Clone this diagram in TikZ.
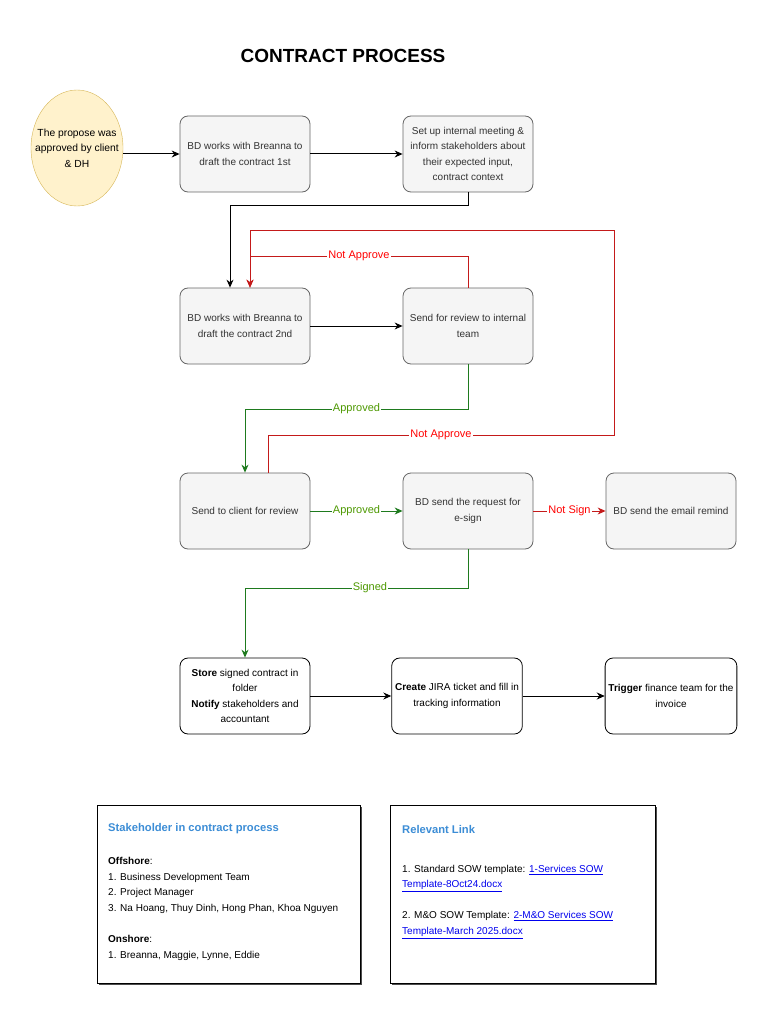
\documentclass[tikz,border=0pt]{standalone}
\usepackage{fontspec}
\setmainfont{Liberation Sans}
\usepackage{tikz}
\usetikzlibrary{arrows.meta}
\usetikzlibrary{shapes.geometric}
\usetikzlibrary{calc}
\definecolor{boxfill}{HTML}{F5F5F5}
\definecolor{boxline}{HTML}{666666}
\definecolor{boxtext}{HTML}{333333}
\definecolor{startfill}{HTML}{FFF2CC}
\definecolor{startline}{HTML}{D6B656}
\definecolor{noline}{HTML}{C41A1A}
\definecolor{notext}{HTML}{FF0000}
\definecolor{okline}{HTML}{1E7A1E}
\definecolor{oktext}{HTML}{4D9900}
\definecolor{headblue}{HTML}{3C8DD6}
\definecolor{linkblue}{HTML}{0000EE}
\tikzset{>={Stealth[length=8pt,width=7pt]}}
\tikzset{
  stepbox/.style={draw=boxline,fill=boxfill,rounded corners=8pt,minimum width=130pt,minimum height=76pt,
    align=center,text=boxtext,font=\fontsize{10}{15.5}\selectfont,line width=0.8pt},
  donebox/.style={stepbox,draw=black,fill=white,text=black},
  startnode/.style={ellipse,draw=startline,fill=startfill,minimum width=92pt,minimum height=116pt,
    align=center,font=\fontsize{10.3}{15.5}\selectfont,inner xsep=-16pt,inner ysep=-10pt},
  flow/.style={->,line width=1pt},
  noflow/.style={->,line width=1pt,draw=noline},
  okflow/.style={->,line width=1pt,draw=okline},
  nolabel/.style={fill=white,inner sep=1pt,text=notext,font=\fontsize{11}{12}\selectfont},
  oklabel/.style={fill=white,inner sep=1pt,text=oktext,font=\fontsize{11}{12}\selectfont},
  infobox/.style={draw=black,line width=1pt,fill=white},
}
\newcommand{\linktext}[1]{{\color{linkblue}\underline{#1}}}
\begin{document}
\begin{tikzpicture}[x=1pt,y=-1pt]
			\useasboundingbox[fill=white] (0,0) rectangle (768,1024);
			\node (title) at (343,56) {\fontsize{19}{22}\selectfont\bfseries CONTRACT PROCESS};
			
			\node[startnode] (start) at (77,148) {The propose was\\approved by client\\\& DH};
			\node[stepbox] (draft1) at (245,154) {BD works with Breanna to\\draft the contract 1st};
			\node[stepbox] (meeting) at (468,154) {Set up internal meeting \&\\inform stakeholders about\\their expected input,\\contract context};
			\node[stepbox] (draft2) at (245,326) {BD works with Breanna to\\draft the contract 2nd};
			\node[stepbox] (review) at (468,326) {Send for review to internal\\team};
			\node[stepbox] (client) at (245,511) {Send to client for review};
			\node[stepbox] (esign) at (468,511) {BD send the request for\\e-sign};
			\node[stepbox] (remind) at (671,511) {BD send the email remind};
			\node[donebox] (store) at (245,696) {\textbf{Store} signed contract in\\folder\\\textbf{Notify} stakeholders and\\accountant};
			\node[donebox] (jira) at (457,696) {\textbf{Create} JIRA ticket and fill in\\tracking information};
			\node[donebox] (trigger) at (671,696) {\textbf{Trigger} finance team for the\\invoice};
			
			\draw[flow] (draft1.west -| start.east) -- (draft1.west);
			\draw[flow] (draft1) -- (meeting);
			\draw[flow] (meeting.south) -- (468,206) -| ([xshift=-15pt]draft2.north);
			\draw[flow] (draft2) -- (review);
			\draw[noflow] (review.north) -- (468,256) -| ([xshift=5pt]draft2.north) node[nolabel,pos=0.25]{Not Approve};
			\draw[noflow] ([xshift=23pt]client.north) -- (268,435) -- (614,435) node[nolabel,midway]{Not Approve} -- (614,231) -- (250,231) -- ([xshift=5pt]draft2.north);
			\draw[okflow] (review.south) -- (468,409) -| (client.north) node[oklabel,pos=0.25]{Approved};
			\draw[okflow] (client) -- (esign) node[oklabel,midway]{Approved};
			\draw[noflow] (esign) -- (remind) node[nolabel,midway]{Not Sign};
			\draw[okflow] (esign.south) -- (468,588) -| (store.north) node[oklabel,pos=0.22]{Signed};
			\draw[flow] (store) -- (jira);
			\draw[flow] (jira) -- (trigger);
			
			\fill[black!70] (99,807) rectangle (362,985);
			\node[infobox,minimum width=263pt,minimum height=178pt] (people) at (228.5,894) {};
			\node[anchor=west,inner sep=0pt,text=headblue,font=\fontsize{11.2}{14}\selectfont\bfseries] (peoplehead) at (108,829) {Stakeholder in contract process};
			\node[anchor=north west,align=left,inner sep=0pt,font=\fontsize{10}{15.7}\selectfont] (peoplelist) at (108,857)
				{\textbf{Offshore}:\\1. Business Development Team\\2. Project Manager\\3. Na Hoang, Thuy Dinh, Hong Phan, Khoa Nguyen\\[15.7pt]\textbf{Onshore}:\\1. Breanna, Maggie, Lynne, Eddie};
			
			\fill[black!70] (392,807) rectangle (657,985);
			\node[infobox,minimum width=265pt,minimum height=178pt] (links) at (522.5,894) {};
			\node[anchor=west,inner sep=0pt,text=headblue,font=\fontsize{11.2}{14}\selectfont\bfseries] (linkshead) at (402,829) {Relevant Link};
			\node[anchor=north west,align=left,inner sep=0pt,font=\fontsize{10}{15.5}\selectfont] (linklist) at (402,865)
				{1. Standard SOW template: \linktext{1-Services SOW}\\\linktext{Template-8Oct24.docx}\\[15.5pt]2. M\&O SOW Template: \linktext{2-M\&O Services SOW}\\\linktext{Template-March 2025.docx}};
		\end{tikzpicture}
\end{document}
